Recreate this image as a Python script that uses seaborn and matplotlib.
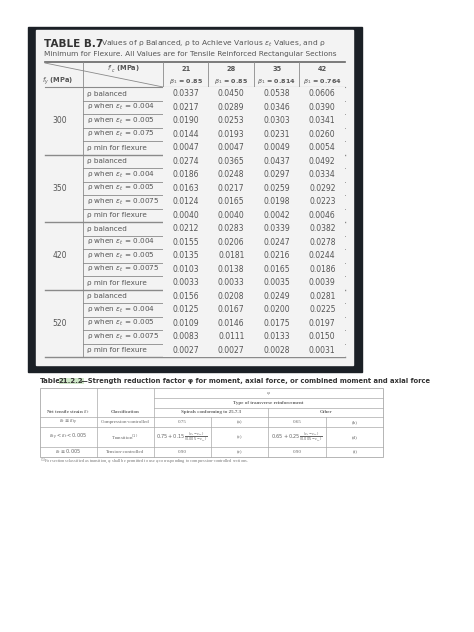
import numpy as np
import pandas as pd
import matplotlib
matplotlib.use("Agg")
import matplotlib.pyplot as plt
import seaborn as sns
from matplotlib.colors import ListedColormap

fy_values = [300, 350, 420, 520]
fc_values = ["21", "28", "35", "42"]
beta_labels = [r"$\beta_1$ = 0.85", r"$\beta_1$ = 0.85", r"$\beta_1$ = 0.814", r"$\beta_1$ = 0.764"]
et = r"$\epsilon_t$"
row_labels = ["ρ balanced", f"ρ when {et} = 0.004", f"ρ when {et} = 0.005",
              f"ρ when {et} = 0.075", "ρ min for flexure",
              "ρ balanced", f"ρ when {et} = 0.004", f"ρ when {et} = 0.005",
              f"ρ when {et} = 0.0075", "ρ min for flexure",
              "ρ balanced", f"ρ when {et} = 0.004", f"ρ when {et} = 0.005",
              f"ρ when {et} = 0.0075", "ρ min for flexure",
              "ρ balanced", f"ρ when {et} = 0.004", f"ρ when {et} = 0.005",
              f"ρ when {et} = 0.0075", "ρ min for flexure"]
rho = np.array([
    [0.0337, 0.0450, 0.0538, 0.0606],
    [0.0217, 0.0289, 0.0346, 0.0390],
    [0.0190, 0.0253, 0.0303, 0.0341],
    [0.0144, 0.0193, 0.0231, 0.0260],
    [0.0047, 0.0047, 0.0049, 0.0054],
    [0.0274, 0.0365, 0.0437, 0.0492],
    [0.0186, 0.0248, 0.0297, 0.0334],
    [0.0163, 0.0217, 0.0259, 0.0292],
    [0.0124, 0.0165, 0.0198, 0.0223],
    [0.0040, 0.0040, 0.0042, 0.0046],
    [0.0212, 0.0283, 0.0339, 0.0382],
    [0.0155, 0.0206, 0.0247, 0.0278],
    [0.0135, 0.0181, 0.0216, 0.0244],
    [0.0103, 0.0138, 0.0165, 0.0186],
    [0.0033, 0.0033, 0.0035, 0.0039],
    [0.0156, 0.0208, 0.0249, 0.0281],
    [0.0125, 0.0167, 0.0200, 0.0225],
    [0.0109, 0.0146, 0.0175, 0.0197],
    [0.0083, 0.0111, 0.0133, 0.0150],
    [0.0027, 0.0027, 0.0028, 0.0031],
])

W, H = 474, 632
fig = plt.figure(figsize=(W / 100, H / 100), dpi=100, facecolor="white")
ax = fig.add_axes([0, 0, 1, 1])
ax.set_xlim(0, W)
ax.set_ylim(H, 0)
ax.axis("off")

tc = "#555555"
lc = "#8a8a8a"
ax.add_patch(plt.Rectangle((28, 27), 334, 345, color="#1b2026"))
ax.add_patch(plt.Rectangle((36, 30), 317, 335, color="#f3f3f3"))

ax.text(44, 44, "TABLE B.7", fontsize=7.5, fontweight="bold", color="#333333", va="center")
ax.text(101, 44, r"Values of ρ Balanced, ρ to Achieve Various $\epsilon_t$ Values, and ρ",
        fontsize=5.4, color=tc, va="center")
ax.text(44, 54, "Minimum for Flexure. All Values are for Tensile Reinforced Rectangular Sections",
        fontsize=5.3, color=tc, va="center")

x0, xlab, xnum, xend = 45, 83, 163, 345
top, hdr, row_h = 62, 87, 13.5
ax.plot([x0, xend], [top, top], color="#666666", lw=1.2)
ax.plot([x0, xend], [hdr, hdr], color=lc, lw=0.8)
ax.plot([x0, xnum], [top + 1, hdr], color=lc, lw=0.6)
ax.text(58, 81, r"$f_y$ (MPa)", fontsize=4.8, fontweight="bold", color=tc, ha="center", va="center")
ax.text(123, 69, r"$f'_c$ (MPa)", fontsize=4.8, fontweight="bold", color=tc, ha="center", va="center")
col_w = (xend - xnum) / len(fc_values)
for j, (fc, b) in enumerate(zip(fc_values, beta_labels)):
    cx = xnum + (j + 0.5) * col_w
    ax.text(cx, 69, fc, fontsize=4.8, fontweight="bold", color=tc, ha="center", va="center")
    ax.text(cx, 81, b, fontsize=4.6, fontweight="bold", color=tc, ha="center", va="center")
for xv in [xlab, xnum] + [xnum + k * col_w for k in range(1, 4)]:
    ax.plot([xv, xv], [top, hdr + row_h * 20], color=lc, lw=0.6)

for i, lab in enumerate(row_labels):
    yc = hdr + (i + 0.5) * row_h
    ax.text(xlab + 4, yc, lab, fontsize=5.2, color=tc, va="center")
    yl = hdr + (i + 1) * row_h
    ax.plot([xlab if (i + 1) % 5 else x0, xend], [yl, yl], color=lc, lw=0.6 if (i + 1) % 5 else 1.0)
for k, fy in enumerate(fy_values):
    ax.text(60, hdr + (k * 5 + 2.5) * row_h, str(fy), fontsize=5.5, color=tc, ha="center", va="center")

# numeric cells via seaborn heatmap
hax = fig.add_axes([xnum / W, 1 - (hdr + 20 * row_h) / H, (xend - xnum) / W, 20 * row_h / H])
df = pd.DataFrame(rho, columns=fc_values)
sns.heatmap(df, ax=hax, cmap=ListedColormap(["#f3f3f3"]), cbar=False, annot=True, fmt=".4f",
            annot_kws={"fontsize": 5.5, "color": tc}, xticklabels=False, yticklabels=False)
hax.tick_params(length=0)
for s in hax.spines.values():
    s.set_visible(False)
hax.patch.set_alpha(0)

# lower table
ax.text(40, 381, "Table", fontsize=5, color="#333333", va="center", fontweight="bold")
ax.text(59, 381, "21.2.2", fontsize=5, color="#333333", va="center", fontweight="bold",
        bbox=dict(facecolor="#cfe8c8", edgecolor="none", pad=0.3))
ax.text(81, 381, "—Strength reduction factor φ for moment, axial force, or combined moment and axial force",
        fontsize=4.9, color="#333333", va="center", fontweight="bold")
g = "#aaaaaa"
L, R, T, B = 40, 383, 388, 457
ax.add_patch(plt.Rectangle((L, T), R - L, B - T, fill=False, edgecolor=g, lw=0.6))
for xv in [97, 154]:
    ax.plot([xv, xv], [T, B], color=g, lw=0.5)
ax.plot([154, R], [398, 398], color=g, lw=0.5)
ax.plot([154, R], [408, 408], color=g, lw=0.5)
ax.plot([268, 268], [408, B], color=g, lw=0.5)
for yv in [417, 427, 447]:
    ax.plot([L, R], [yv, yv], color=g, lw=0.5)
for xv in [211, 326]:
    ax.plot([xv, xv], [417, B], color=g, lw=0.5)
sf = dict(fontsize=3.6, color="#666666", ha="center", va="center", family="Liberation Serif")
ax.text(268, 393, "φ", **sf)
ax.text(268, 403, "Type of transverse reinforcement", fontweight="bold", **sf)
ax.text(211, 412, "Spirals conforming to 25.7.3", fontweight="bold", **sf)
ax.text(326, 412, "Other", fontweight="bold", **sf)
ax.text(68, 412, r"Net tensile strain $\epsilon_t$", fontweight="bold", **sf)
ax.text(125, 412, "Classification", fontweight="bold", **sf)
rows2 = [(r"$\epsilon_t \leq \epsilon_{ty}$", "Compression-controlled", "0.75", "(a)", "0.65", "(b)", 422),
         (r"$\epsilon_{ty} < \epsilon_t < 0.005$", r"Transition$^{(1)}$",
          r"$0.75 + 0.15\frac{(\epsilon_t - \epsilon_{ty})}{(0.005 - \epsilon_{ty})}$", "(c)",
          r"$0.65 + 0.25\frac{(\epsilon_t - \epsilon_{ty})}{(0.005 - \epsilon_{ty})}$", "(d)", 437),
         (r"$\epsilon_t \geq 0.005$", "Tension-controlled", "0.90", "(e)", "0.90", "(f)", 452)]
for a, b, c, d, e, f, yv in rows2:
    for xv, t in zip([68, 125, 182, 240, 297, 355], [a, b, c, d, e, f]):
        ax.text(xv, yv, t, **sf)
ax.text(40, 461, r"$^{(1)}$For sections classified as transition, φ shall be permitted to use φ corresponding to compression-controlled sections.",
        fontsize=3.2, color="#777777", va="center", family="Liberation Serif")

fig.savefig("out.png", dpi=100, facecolor="white")
